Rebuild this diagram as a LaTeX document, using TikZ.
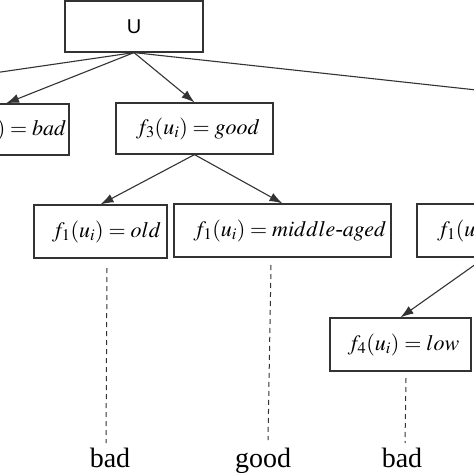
\documentclass[tikz,border=0pt]{standalone}
\usepackage{mathptmx}
\usepackage{fontspec}
\setmainfont{Liberation Serif}
\newfontfamily\ufont{Liberation Sans}
\usetikzlibrary{arrows.meta}
\definecolor{boxc}{HTML}{333333}
\definecolor{linec}{HTML}{333333}
\begin{document}
\begin{tikzpicture}[x=1pt,y=-1pt,
  box/.style={draw=boxc, line width=1.2pt, minimum height=52pt, inner sep=0pt, fill=white},
  mtext/.style={font=\fontsize{22}{26}\selectfont, inner sep=0pt, text=black},
  arr/.style={draw=linec, line width=1.1pt, -{Latex[length=13pt,width=9pt]}},
  plain/.style={draw=linec, line width=1.1pt},
  dline/.style={draw=linec, line width=1pt, dash pattern=on 5pt off 4pt},
  outlabel/.style={font=\fontsize{28}{32}\selectfont, inner sep=0pt, anchor=base, text=black}]
\useasboundingbox (0,0) rectangle (474,474);
\clip (0,0) rectangle (474,474);
\fill[white] (0,0) rectangle (474,474);

% root
\node[box, minimum width=138pt, minimum height=51pt, font=\ufont\fontsize{20}{24}\selectfont] (U) at (134,26.5) {U};

% level 1
\node[box, minimum width=150pt] (L) at (-208,129) {};
\node[box, minimum width=126pt, minimum height=51pt] (B1) at (6,129.5) {};
\node[mtext] (B1t) at (10,129.5) {$f_3(u_i) = bad$};
\node[box, minimum width=157pt, minimum height=51pt] (G) at (194.5,128.5) {};
\node[mtext] (Gt) at (198,128.5) {$f_3(u_i) = good$};
\node[box, minimum width=150pt] (R) at (590,129) {};

% level 2
\node[box, minimum width=133pt, minimum height=53pt] (O) at (100.5,231.5) {};
\node[mtext] (Ot) at (106.5,231.5) {$f_1(u_i) = old$};
\node[box, minimum width=217pt, minimum height=53pt] (M) at (282.5,230.5) {};
\node[mtext] (Mt) at (290,230.5) {$f_1(u_i) = middle\textit{-}aged$};
\node[box, minimum width=136pt, minimum height=53pt] (Y) at (485,230.5) {};
\node[mtext, anchor=west] (Yt) at (437,230.5) {$f_1(u_i) = young$};

% level 3
\node[box, minimum width=141pt, minimum height=53pt] (W) at (400.5,344.5) {};
\node[mtext] (Wt) at (403.5,344.5) {$f_4(u_i) = low$};

% connectors
\draw[arr] (U.south) -- (L.north);
\draw[arr] (U.south) -- (B1.north);
\draw[arr] (U.south) -- (G.north);
\draw[arr] (U.south) -- (R.north);
\draw[arr] (G.south) -- (O.north);
\draw[arr] (G.south) -- (M.north);
\draw[arr] (Y.south) -- (W.north);

% outcome labels
\node[outlabel] (r1) at (110,467) {bad};
\node[outlabel] (r2) at (263,467) {good};
\node[outlabel] (r3) at (402,467) {bad};

\coordinate (d1a) at (107,268);
\coordinate (d1b) at (106,443);
\coordinate (d2a) at (271,265);
\coordinate (d2b) at (268,440);
\coordinate (d3a) at (406,378);
\coordinate (d3b) at (405,443);
\draw[dline] (d1a) -- (d1b);
\draw[dline] (d2a) -- (d2b);
\draw[dline] (d3a) -- (d3b);
\end{tikzpicture}
\end{document}
